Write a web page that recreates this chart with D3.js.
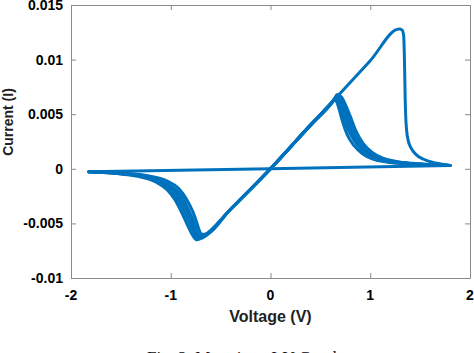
<!DOCTYPE html>
<html>
<head>
<meta charset="utf-8">
<script src="https://cdn.jsdelivr.net/npm/d3@7"></script>
<style>
    body { margin: 0; background: #fff; overflow: hidden; }
    #chart-area { width: 474px; height: 353px; }
    .tick-label { font-family: "Liberation Sans", Arial, sans-serif; font-weight: bold; font-size: 14px; fill: #000; }
    .axis-title { font-family: "Liberation Sans", Arial, sans-serif; font-weight: bold; fill: #222; }
    .caption { font-family: "Liberation Serif", "Times New Roman", serif; font-size: 17px; fill: #111; }
</style>
</head>
<body>
<div id="chart-area"></div>
<script>

// tick values + labels
let xTicks = [-2, -1, 0, 1, 2];
let xTickLabels = ["-2", "-1", "0", "1", "2"];
let yTicks = [-0.01, -0.005, 0, 0.005, 0.01, 0.015];
let yTickLabels = ["-0.01", "-0.005", "0", "0.005", "0.01", "0.015"];

// first positive sweep, big switching event near 1.3 V
let firstSweep = [[0, 0], [0.5, 0.00495], [1.0, 0.0099], [1.29, 0.0128], [1.32, 0.0127], [1.335, 0.0122],
    [1.345, 0.0090], [1.35, 0.0065], [1.356, 0.0047], [1.365, 0.0035], [1.38, 0.0026], [1.41, 0.0019],
    [1.46, 0.0013], [1.53, 0.0009], [1.62, 0.0006], [1.72, 0.00042], [1.8, 0.0003]];

// low conductance branch, +1.8 V back to -1.8 V
let offLine = [[1.8, 0.0003], [0, 0.00001], [-1.82, -0.00028]];

// shared high conductance branch through the origin
let onLine = [[-0.4, -0.0037], [0, 0], [0.4, 0.0040]];

// negative lobes of the repeated cycles (outer -> inner)
let negA = [[-1.82, -0.00028], [-1.5, -0.00048], [-1.3, -0.00075], [-1.15, -0.0012], [-1.04, -0.0019], [-0.96, -0.0028],
    [-0.89, -0.0040], [-0.83, -0.0052], [-0.78, -0.0061], [-0.74, -0.0065], [-0.70, -0.0064]];
let negB = [[-1.82, -0.00028], [-1.5, -0.00046], [-1.28, -0.00072], [-1.13, -0.0012], [-1.01, -0.0019], [-0.93, -0.0028],
    [-0.86, -0.0040], [-0.80, -0.0052], [-0.76, -0.0060], [-0.725, -0.0064], [-0.69, -0.0063]];
let negC = [[-1.82, -0.00028], [-1.5, -0.00044], [-1.26, -0.0007], [-1.10, -0.0012], [-0.98, -0.0019], [-0.90, -0.0028],
    [-0.83, -0.0040], [-0.78, -0.0051], [-0.745, -0.0059], [-0.71, -0.0063], [-0.68, -0.0062]];
let negD = [[-1.82, -0.00028], [-1.5, -0.00042], [-1.24, -0.00068], [-1.07, -0.0012], [-0.95, -0.0019], [-0.87, -0.0028],
    [-0.81, -0.0040], [-0.76, -0.0050], [-0.73, -0.0058], [-0.70, -0.0062], [-0.67, -0.0061]];
let negE = [[-1.82, -0.00028], [-1.5, -0.0004], [-1.22, -0.00065], [-1.04, -0.0011], [-0.92, -0.0018], [-0.84, -0.0028],
    [-0.78, -0.0039], [-0.74, -0.0049], [-0.715, -0.0056], [-0.69, -0.0060], [-0.66, -0.0060]];

// positive lobes of the repeated cycles (outer -> inner)
let posA = [[0.64, 0.0064], [0.67, 0.0068], [0.71, 0.0066], [0.75, 0.0059], [0.80, 0.0048], [0.86, 0.0034], [0.93, 0.0023],
    [1.02, 0.0015], [1.12, 0.0010], [1.26, 0.00068], [1.42, 0.0005], [1.6, 0.0004], [1.8, 0.0003]];
let posB = [[0.635, 0.0063], [0.665, 0.0067], [0.70, 0.0065], [0.735, 0.0058], [0.78, 0.0047], [0.84, 0.0034], [0.91, 0.0023],
    [1.0, 0.0015], [1.10, 0.00098], [1.24, 0.00066], [1.42, 0.00048], [1.6, 0.0004], [1.8, 0.0003]];
let posC = [[0.63, 0.0062], [0.66, 0.0066], [0.69, 0.0064], [0.72, 0.0057], [0.76, 0.0046], [0.82, 0.0033], [0.89, 0.0022],
    [0.97, 0.0015], [1.07, 0.00095], [1.22, 0.00064], [1.4, 0.00047], [1.6, 0.00038], [1.8, 0.0003]];
let posD = [[0.625, 0.0062], [0.655, 0.0065], [0.68, 0.0063], [0.705, 0.0056], [0.74, 0.0045], [0.80, 0.0032], [0.87, 0.0022],
    [0.95, 0.0014], [1.05, 0.0009], [1.2, 0.0006], [1.4, 0.00046], [1.6, 0.00038], [1.8, 0.0003]];
let posE = [[0.62, 0.0061], [0.645, 0.0064], [0.665, 0.0061], [0.69, 0.0054], [0.72, 0.0044], [0.77, 0.0031], [0.84, 0.0021],
    [0.92, 0.0014], [1.02, 0.0009], [1.18, 0.0006], [1.4, 0.00045], [1.6, 0.00038], [1.8, 0.0003]];


// margin convention
let margin = {top: 5, right: 4, bottom: 75, left: 71};
let width = 474 - margin.left - margin.right;
let height = 353 - margin.top - margin.bottom;

let svg = d3.select("#chart-area").append("svg")
    .attr("width", 474)
    .attr("height", 353)
    .append("g")
    .attr("transform", "translate(" + margin.left + "," + margin.top + ")");

let x = d3.scaleLinear().domain([-2, 2]).range([0, width]);
let y = d3.scaleLinear().domain([-0.01, 0.015]).range([height, 0]);

let axisColor = "#8a8a8a";
let tickLen = 5;

// axes with inward ticks (matlab style), labels drawn separately
let drawAxis = function (axis, transform) {
    let g = svg.append("g").attr("transform", transform).call(axis);
    g.select(".domain").attr("stroke", axisColor);
    g.selectAll(".tick line").attr("stroke", axisColor);
    g.selectAll(".tick text").remove();
    return g;
};

drawAxis(d3.axisBottom(x).tickValues(xTicks).tickSize(-tickLen).tickSizeOuter(0), "translate(0," + height + ")");
drawAxis(d3.axisTop(x).tickValues(xTicks).tickSize(-tickLen).tickSizeOuter(0), "translate(0,0)");
drawAxis(d3.axisLeft(y).tickValues(yTicks).tickSize(-tickLen).tickSizeOuter(0), "translate(0,0)");
drawAxis(d3.axisRight(y).tickValues(yTicks).tickSize(-tickLen).tickSizeOuter(0), "translate(" + width + ",0)");

// tick labels
svg.selectAll(".x-label")
    .data(xTicks)
    .enter().append("text")
    .attr("class", "tick-label")
    .attr("x", d => x(d))
    .attr("y", height + 22)
    .attr("text-anchor", "middle")
    .text((d, i) => xTickLabels[i]);

svg.selectAll(".y-label")
    .data(yTicks)
    .enter().append("text")
    .attr("class", "tick-label")
    .attr("x", -8)
    .attr("y", d => y(d))
    .attr("dy", "0.35em")
    .attr("text-anchor", "end")
    .text((d, i) => yTickLabels[i]);

// axis titles
svg.append("text")
    .attr("class", "axis-title")
    .attr("x", x(0))
    .attr("y", height + 44)
    .attr("text-anchor", "middle")
    .style("font-size", "16px")
    .text("Voltage (V)");

svg.append("text")
    .attr("class", "axis-title")
    .attr("transform", "translate(" + (13 - margin.left) + "," + (122 - margin.top) + ") rotate(-90)")
    .attr("text-anchor", "middle")
    .style("font-size", "14px")
    .text("Current (I)");

// curves
let line = d3.line()
    .x(d => x(d[0]))
    .y(d => y(d[1]))
    .curve(d3.curveMonotoneX);

let series = [
    offLine,
    firstSweep,
    negA.concat(onLine, posA),
    negB.concat(onLine, posB),
    negC.concat(onLine, posC),
    negD.concat(onLine, posD),
    negE.concat(onLine, posE)
];

svg.selectAll(".iv")
    .data(series)
    .enter().append("path")
    .attr("class", "iv")
    .attr("d", d => line(d))
    .attr("fill", "none")
    .attr("stroke", "#0072BD")
    .attr("stroke-width", 3)
    .attr("stroke-linejoin", "round")
    .attr("stroke-linecap", "round");

// figure caption (cut off by the bottom of the image)
svg.append("text")
    .attr("class", "caption")
    .attr("x", 147 - margin.left)
    .attr("y", 363 - margin.top)
    .text("Fig. 2. Memristor I-V Graph");

</script>
</body>
</html>
